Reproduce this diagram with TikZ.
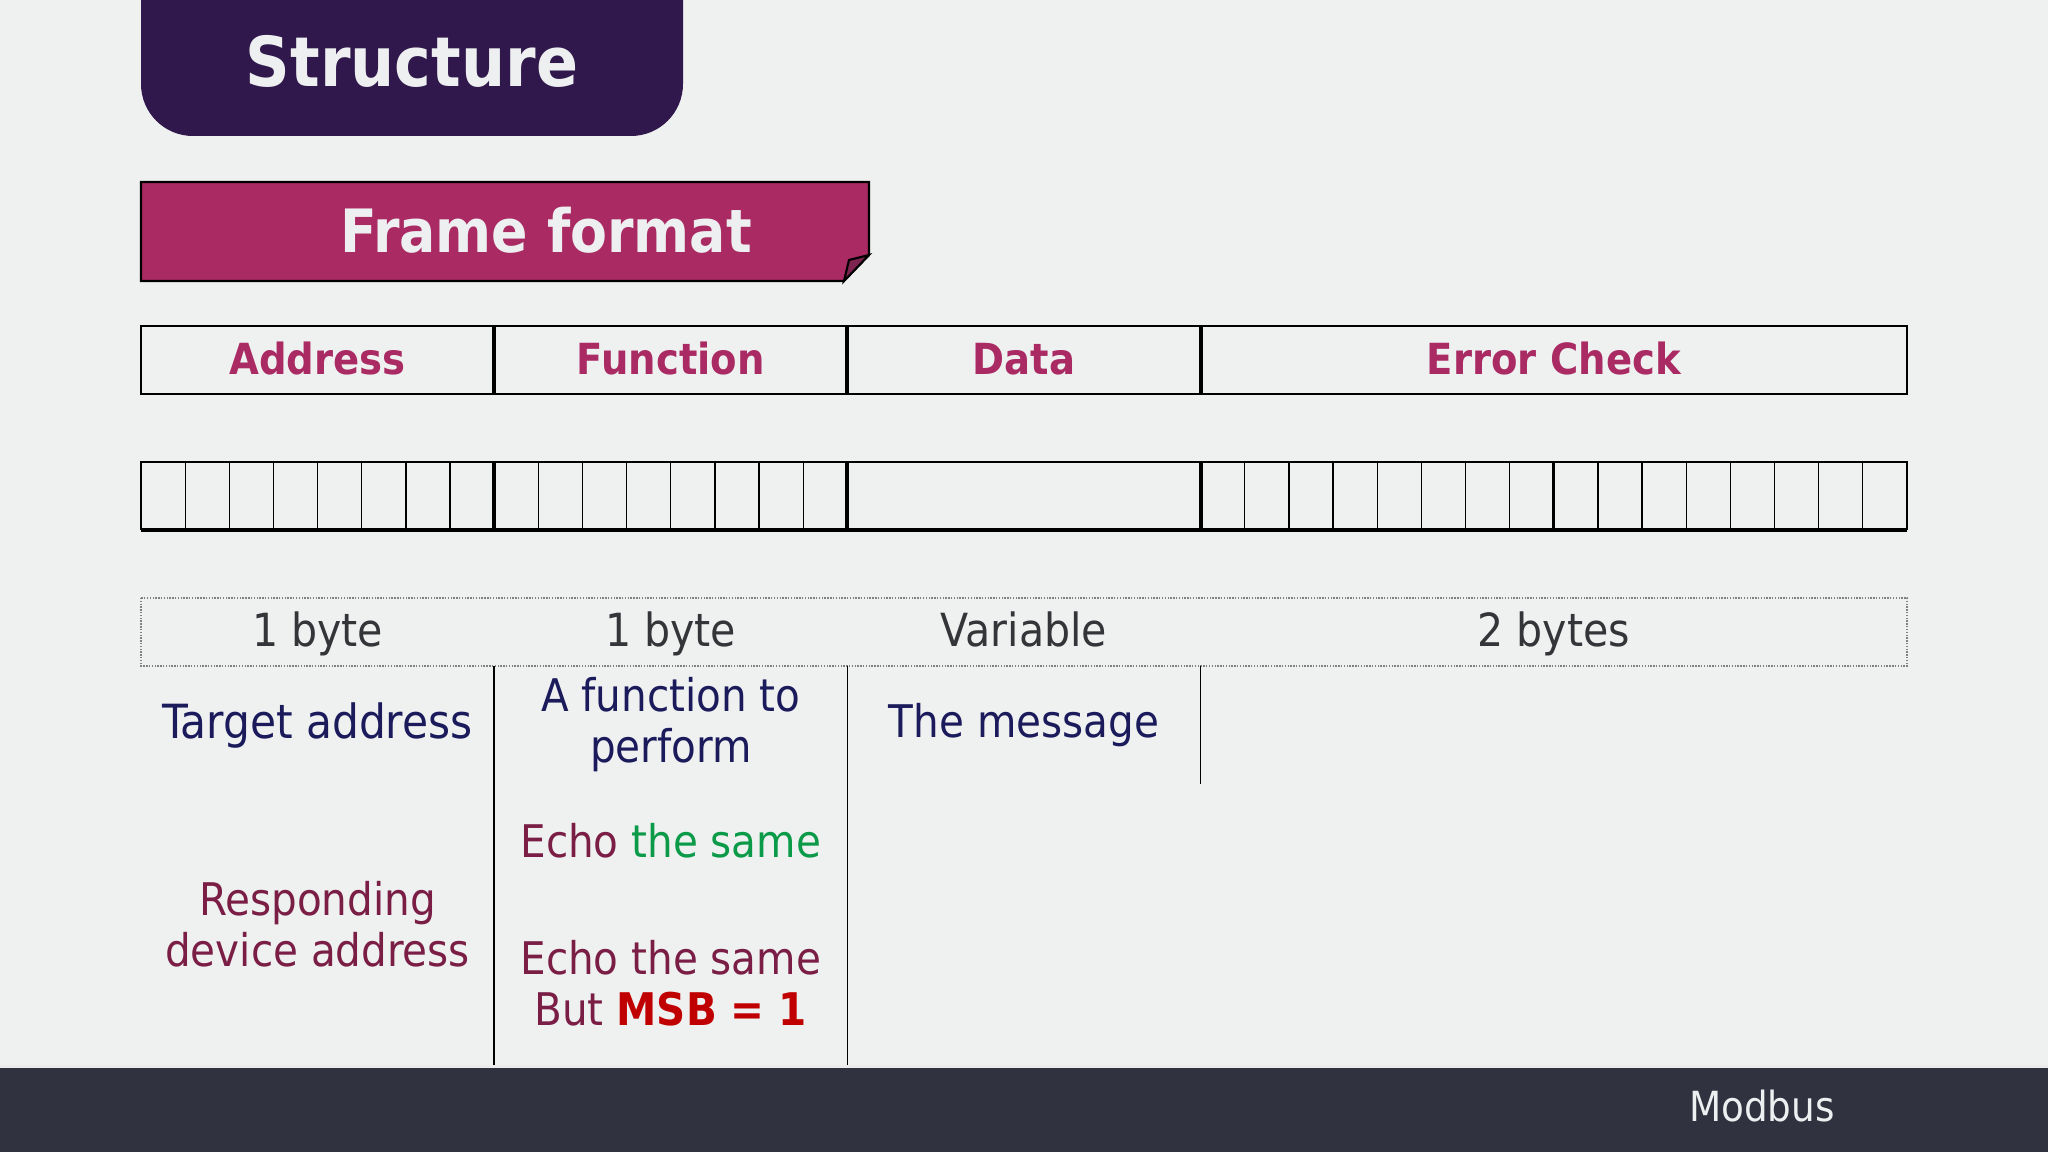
\documentclass[tikz,border=0pt]{standalone}
\usepackage{fontspec}
\setmainfont{DejaVuSansCondensed.ttf}[BoldFont=DejaVuSansCondensed-Bold.ttf]
\usetikzlibrary{calc}

\definecolor{pagebg}{HTML}{EFF1F1}
\definecolor{titlebg}{HTML}{30184C}
\definecolor{titletext}{HTML}{EDEFF0}
\definecolor{framemag}{HTML}{AA2A63}
\definecolor{folddark}{HTML}{7E2450}
\definecolor{sizegray}{HTML}{333538}
\definecolor{navytext}{HTML}{1B1B5C}
\definecolor{maroontext}{HTML}{7A1E46}
\definecolor{echogreen}{HTML}{0A9A48}
\definecolor{msbred}{HTML}{C00000}
\definecolor{footbg}{HTML}{30323F}

\tikzset{
  hdrlabel/.style={text=framemag, font=\fontsize{12.2}{15}\selectfont\bfseries},
  sizelabel/.style={text=sizegray, font=\fontsize{13}{15}\selectfont, text height=1.6ex, text depth=0.4ex},
  desc/.style={align=center, font=\fontsize{12.8}{14.5}\selectfont},
  bitline/.style={line width=0.35pt},
  fieldline/.style={line width=1.1pt},
}

\begin{document}
\begin{tikzpicture}[y=-1cm]
  \useasboundingbox (0,0) rectangle (20.48,11.52);
  \clip (0,0) rectangle (20.48,11.52);
  \fill[pagebg] (0,0) rectangle (20.48,11.52);

  \fill[titlebg, rounded corners=0.52cm] (1.41,-1) rectangle (6.83,1.36);
  \node[text=titletext, font=\fontsize{19.6}{24}\selectfont\bfseries] (title) at (4.12,0.61) {Structure};

  \draw[line width=0.6pt, fill=framemag] (1.41,1.82) -- (8.69,1.82) -- (8.69,2.55) -- (8.44,2.81) -- (1.41,2.81) -- cycle;
  \draw[line width=0.6pt, fill=folddark] (8.44,2.81) -- (8.49,2.60) -- (8.69,2.55) -- cycle;
  \node[text=titletext, font=\fontsize{17}{21}\selectfont\bfseries] (frame) at (5.46,2.30) {Frame format};

  \node[hdrlabel] (addr) at (3.176,3.59) {Address};
  \node[hdrlabel] (func) at (6.708,3.59) {Function};
  \node[hdrlabel] (data) at (10.24,3.59) {Data};
  \node[hdrlabel] (crc) at (15.538,3.59) {Error Check};
  \draw[line width=0.6pt] (1.41,3.26) rectangle (19.07,3.94);
  \foreach \x in {4.942,8.474,12.006}
    \draw[fieldline] (\x,3.26) -- (\x,3.94);

  \foreach \i in {1,...,7} {
    \draw[bitline] ({1.41+\i*0.4415},4.62) -- ++(0,0.68);
    \draw[bitline] ({4.942+\i*0.4415},4.62) -- ++(0,0.68);
  }
  \foreach \i in {1,...,15}
    \draw[bitline] ({12.006+\i*0.4415},4.62) -- ++(0,0.68);
  \draw[line width=0.6pt] (1.41,5.30) -- (1.41,4.62) -- (19.07,4.62) -- (19.07,5.30);
  \draw[line width=1.4pt] (1.41,5.30) -- (19.07,5.30);
  \foreach \x in {4.942,8.474,12.006}
    \draw[fieldline] (\x,4.62) -- (\x,5.30);
  \draw[line width=0.8pt] (15.538,4.62) -- (15.538,5.30);

  \draw[gray, line width=0.7pt, dash pattern=on 0.4pt off 0.4pt] (1.41,5.98) rectangle (19.07,6.66);
  \node[sizelabel] (addrsize) at (3.176,6.35) {1 byte};
  \node[sizelabel] (funcsize) at (6.708,6.35) {1 byte};
  \node[sizelabel] (datasize) at (10.24,6.35) {Variable};
  \node[sizelabel] (crcsize) at (15.538,6.35) {2 bytes};

  \draw[line width=0.5pt] (4.942,6.66) -- (4.942,10.67);
  \draw[line width=0.5pt] (8.474,6.66) -- (8.474,10.67);
  \draw[line width=0.5pt] (12.006,6.66) -- (12.006,7.84);

  \node[desc, text=navytext, font=\fontsize{13.4}{15}\selectfont] (addrreq) at (3.176,7.26) {Target address};
  \node[desc, text=navytext] (funcreq) at (6.708,7.25) {A function to\\perform};
  \node[desc, text=navytext] (datareq) at (10.24,7.25) {The message};
  \node[desc, text=maroontext] (funcok) at (6.708,8.41) {Echo \textcolor{echogreen}{the same}};
  \node[desc, text=maroontext] (addrresp) at (3.176,9.24) {Responding\\device address};
  \node[desc, text=maroontext] (funcerr) at (6.708,9.83) {Echo the same\\But \textcolor{msbred}{\bfseries MSB = 1}};

  \fill[footbg] (0,10.67) rectangle (20.48,11.52);
  \draw[white!85!gray, line width=0.6pt] (0,10.665) -- (20.48,10.665);
  \node[text=titletext, font=\fontsize{11.8}{15}\selectfont] (footer) at (17.62,11.06) {Modbus};
\end{tikzpicture}
\end{document}
